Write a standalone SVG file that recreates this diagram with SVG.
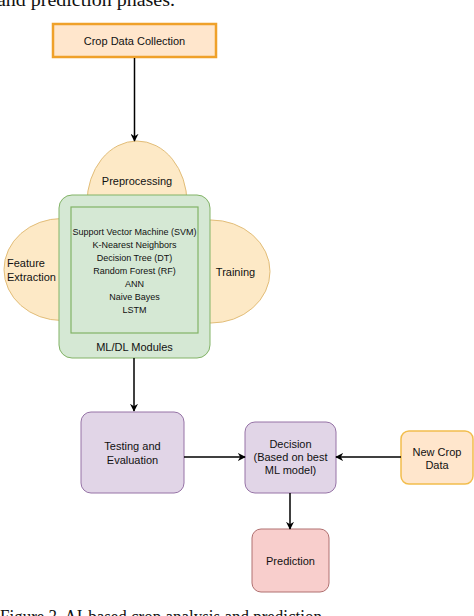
<svg xmlns="http://www.w3.org/2000/svg" width="474" height="616" viewBox="0 0 474 616">
<defs>
<marker id="arr" viewBox="0 0 10 10" refX="9" refY="5" markerWidth="8" markerHeight="8" markerUnits="userSpaceOnUse" orient="auto">
<path d="M0,0 L10,5 L0,10 L3,5 z" fill="#000"/>
</marker>
</defs>
<style>
.t{font-family:"Liberation Sans",Arial,sans-serif;fill:#111;text-anchor:middle}
.s{font-size:11px}
.m{font-size:9px}
.cap{font-family:"Liberation Serif","Times New Roman",serif;font-size:19px;fill:#111}
.blob{fill:#fde9c6;stroke:#e2bd78;stroke-width:1}
.edge{fill:none;stroke:#000;stroke-width:1.5;marker-end:url(#arr)}
</style>
<rect width="474" height="616" fill="#fff"/>
<text class="cap" x="-3" y="6" textLength="178" lengthAdjust="spacingAndGlyphs">and prediction phases.</text>
<text class="cap" x="0" y="623" textLength="322" lengthAdjust="spacingAndGlyphs">Figure 3. AI-based crop analysis and prediction</text>

<g id="crop-data-collection">
<rect x="53" y="24" width="163" height="33" fill="#ffe6cc" stroke="#efa12a" stroke-width="2.5"/>
<text class="t s" x="134.5" y="44.5">Crop Data Collection</text>
</g>

<g id="preprocessing">
<ellipse class="blob" cx="137" cy="203" rx="50" ry="62"/>
<text class="t s" x="137" y="184.5">Preprocessing</text>
</g>
<g id="feature-extraction">
<ellipse class="blob" cx="62" cy="269.5" rx="58" ry="51"/>
<text class="t s" x="7" y="267" style="text-anchor:start">Feature</text>
<text class="t s" x="7" y="280.5" style="text-anchor:start">Extraction</text>
</g>
<g id="training">
<ellipse class="blob" cx="211" cy="271.5" rx="59" ry="51.5"/>
<text class="t s" x="235.5" y="275.5">Training</text>
</g>

<g id="ml-dl-modules">
<rect x="59" y="195" width="151" height="163" rx="13" fill="#d5e8d4" stroke="#82b366" stroke-width="1"/>
<rect x="71" y="207" width="127" height="126" fill="#d5e8d4" stroke="#82b366" stroke-width="1.2"/>
<text class="t m" x="134.5" y="235">Support Vector Machine (SVM)</text>
<text class="t m" x="134.5" y="248">K-Nearest Neighbors</text>
<text class="t m" x="134.5" y="261">Decision Tree (DT)</text>
<text class="t m" x="134.5" y="274">Random Forest (RF)</text>
<text class="t m" x="134.5" y="287">ANN</text>
<text class="t m" x="134.5" y="299.5">Naive Bayes</text>
<text class="t m" x="134.5" y="312.5">LSTM</text>
<text class="t s" x="134.5" y="351">ML/DL Modules</text>
</g>

<g id="testing-evaluation">
<rect x="81" y="412" width="103" height="81" rx="10" fill="#e1d5e7" stroke="#9673a6" stroke-width="1"/>
<text class="t s" x="132.5" y="450">Testing and</text>
<text class="t s" x="132.5" y="464">Evaluation</text>
</g>

<g id="decision">
<rect x="245" y="422" width="91" height="71" rx="10" fill="#e1d5e7" stroke="#9673a6" stroke-width="1"/>
<text class="t s" x="290.5" y="448">Decision</text>
<text class="t s" x="290.5" y="461">(Based on best</text>
<text class="t s" x="290.5" y="474">ML model)</text>
</g>

<g id="new-crop-data">
<rect x="401" y="431" width="72" height="53" rx="8" fill="#ffe6cc" stroke="#f2bd4c" stroke-width="1.5"/>
<text class="t s" x="437" y="455.5">New Crop</text>
<text class="t s" x="437" y="468.5">Data</text>
</g>

<g id="prediction">
<rect x="252" y="529" width="77" height="63" rx="9" fill="#f8cecc" stroke="#b07070" stroke-width="1"/>
<text class="t s" x="290.5" y="564.5">Prediction</text>
</g>

<g id="connectors">
<line class="edge" x1="134.5" y1="58" x2="134.5" y2="141"/>
<line class="edge" x1="134" y1="358" x2="134" y2="411"/>
<line class="edge" x1="184" y1="457" x2="245" y2="457"/>
<line class="edge" x1="401" y1="457" x2="336" y2="457"/>
<line class="edge" x1="290" y1="493" x2="290" y2="529"/>
</g>
</svg>
